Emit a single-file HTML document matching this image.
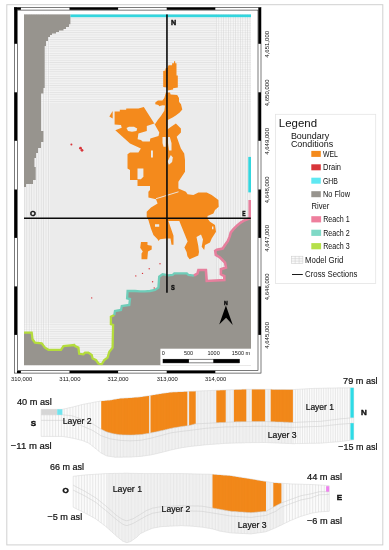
<!DOCTYPE html>
<html><head><meta charset="utf-8"><title>Model grid and boundary conditions</title>
<style>
html,body{margin:0;padding:0;background:#fff;}
body{width:389px;height:550px;overflow:hidden;}
svg{display:block;}
text{font-family:"Liberation Sans",sans-serif;fill:#111;}
.b{font-weight:bold;}
.s{stroke:#111;stroke-width:0.22px;}
.b.s{stroke-width:0.45px;}
</style></head><body>
<svg width="389" height="550" viewBox="0 0 389 550">
<defs>
<pattern id="hl" width="10" height="2.3" patternUnits="userSpaceOnUse"><rect width="10" height="2.3" fill="#f3f3f3"/><rect width="10" height="0.9" y="0" fill="#e3e3e3"/></pattern>
<pattern id="vl" width="2.4" height="10" patternUnits="userSpaceOnUse"><rect x="0.8" width="1.6" height="10" fill="#fff" fill-opacity="0.3"/><rect width="0.8" height="10" fill="#d8d8d8" fill-opacity="0.6"/></pattern>
<clipPath id="mapclip"><rect x="24" y="14.3" width="227" height="351"/></clipPath>
</defs>
<rect width="389" height="550" fill="#fff"/>
<rect x="6.8" y="4.7" width="376" height="540.2" fill="none" stroke="#d0d0d0" stroke-width="1"/>

<rect x="14.3" y="7.5" width="246.7" height="365.6" fill="#fff" stroke="#222" stroke-width="0.6"/>
<rect x="17.3" y="10.1" width="240.7" height="360.4" fill="#fff" stroke="#222" stroke-width="0.6"/>
<rect x="14.3" y="7.5" width="6.6" height="2.3" fill="#000"/>
<rect x="17.0" y="370.8" width="3.9" height="2.3" fill="#000"/>
<rect x="69.5" y="7.5" width="48.6" height="2.3" fill="#000"/>
<rect x="69.5" y="370.8" width="48.6" height="2.3" fill="#000"/>
<rect x="166.7" y="7.5" width="48.6" height="2.3" fill="#000"/>
<rect x="166.7" y="370.8" width="48.6" height="2.3" fill="#000"/>
<rect x="14.3" y="7.5" width="2.7" height="36.3" fill="#000"/>
<rect x="258.3" y="7.5" width="2.7" height="36.3" fill="#000"/>
<rect x="14.3" y="92.3" width="2.7" height="48.5" fill="#000"/>
<rect x="258.3" y="92.3" width="2.7" height="48.5" fill="#000"/>
<rect x="14.3" y="189.5" width="2.7" height="48.4" fill="#000"/>
<rect x="258.3" y="189.5" width="2.7" height="48.4" fill="#000"/>
<rect x="14.3" y="286.4" width="2.7" height="48.5" fill="#000"/>
<rect x="258.3" y="286.4" width="2.7" height="48.5" fill="#000"/>
<g clip-path="url(#mapclip)">
<rect x="24" y="14.3" width="227" height="351" fill="#ebebeb"/>
<rect x="24" y="14.3" width="227" height="88.7" fill="url(#hl)"/>
<rect x="24" y="322.6" width="227" height="43" fill="url(#hl)"/>
<rect x="24" y="14.3" width="26" height="351" fill="url(#vl)"/>
<rect x="216" y="14.3" width="35" height="351" fill="url(#vl)"/>
<polygon points="24.0,14.3 70.4,14.3 70.4,24.3 69.0,24.3 69.0,27.0 66.0,27.0 66.0,29.0 63.5,29.0 63.5,30.5 59.0,30.5 59.0,32.0 56.0,32.0 56.0,33.5 52.0,33.5 52.0,35.0 50.0,35.0 50.0,37.0 48.0,37.0 48.0,41.0 46.0,41.0 46.0,46.0 44.7,46.0 44.7,88.0 43.4,88.0 43.4,93.6 41.0,93.6 41.0,131.0 43.4,131.0 43.4,142.0 41.0,142.0 41.0,148.0 38.0,148.0 38.0,153.0 36.0,153.0 36.0,158.0 34.4,158.0 34.4,167.0 35.7,167.0 35.7,180.0 33.0,180.0 33.0,184.0 26.0,184.0 26.0,187.0 24.0,187.0" fill="#97948e"/>
<polygon points="24.0,332.6 31.7,332.6 32.5,339.3 35.0,342.6 41.7,343.4 45.0,347.6 48.4,349.8 61.0,349.8 63.5,346.0 74.3,345.0 75.0,346.0 78.4,347.6 79.2,353.8 83.4,354.3 85.0,352.6 88.4,352.6 91.7,355.0 92.6,358.5 95.9,360.0 98.4,363.5 101.7,364.3 104.3,360.0 107.6,357.6 109.3,351.8 112.6,347.6 113.1,325.0 110.9,324.2 110.9,316.7 114.3,315.0 115.0,311.0 121.0,310.0 121.8,306.0 129.3,305.0 130.0,299.0 127.1,298.4 127.6,290.9 135.0,291.0 140.0,291.4 145.0,291.4 150.0,291.0 155.0,290.0 158.4,287.6 159.2,276.7 162.6,274.2 168.4,275.4 172.6,275.0 174.3,273.4 186.8,273.4 188.5,275.0 194.0,275.7 197.5,273.4 198.4,270.0 205.9,270.0 206.7,281.0 224.3,280.1 224.3,276.0 220.9,274.3 220.9,269.2 226.0,267.6 225.0,262.6 220.0,257.5 215.8,254.9 215.2,250.9 216.9,249.7 222.7,248.5 225.0,245.1 227.9,241.0 229.7,236.4 230.8,232.4 233.7,228.9 237.2,225.4 240.7,222.5 244.7,220.2 249.7,218.3 251.0,218.2 251.0,366.0 24.0,366.0" fill="#97948e"/>
<polyline points="24.0,332.6 31.7,332.6 32.5,339.3 35.0,342.6 41.7,343.4 45.0,347.6 48.4,349.8 61.0,349.8 63.5,346.0 74.3,345.0 75.0,346.0 78.4,347.6 79.2,353.8 83.4,354.3 85.0,352.6 88.4,352.6 91.7,355.0 92.6,358.5 95.9,360.0 98.4,363.5 101.7,364.3 104.3,360.0 107.6,357.6 109.3,351.8 112.6,347.6 113.1,325.0 110.9,324.2 110.9,316.7 114.3,315.0" fill="none" stroke="#b4dc3c" stroke-width="2.3" stroke-linejoin="miter"/>
<polyline points="114.3,315.0 115.0,311.0 121.0,310.0 121.8,306.0 129.3,305.0 130.0,299.0 127.1,298.4 127.6,290.9 135.0,291.0 140.0,291.4 145.0,291.4 150.0,291.0 155.0,290.0 158.4,287.6 159.2,276.7 162.6,274.2 168.4,275.4 172.6,275.0 174.3,273.4 186.8,273.4 188.5,275.0 194.0,275.7" fill="none" stroke="#6fcdb9" stroke-width="2.3" stroke-linejoin="miter"/>
<polyline points="194.0,275.7 197.5,273.4 198.4,270.0 205.9,270.0 206.7,281.0 224.3,280.1 224.3,276.0 220.9,274.3 220.9,269.2 226.0,267.6 225.0,262.6 220.0,257.5 215.8,254.9 215.2,250.9 216.9,249.7 222.7,248.5 225.0,245.1 227.9,241.0 229.7,236.4 230.8,232.4 233.7,228.9 237.2,225.4 240.7,222.5 244.7,220.2 249.7,218.3 249.7,200.0" fill="none" stroke="#e67f9d" stroke-width="2.6" stroke-linejoin="miter"/>
<rect x="70.4" y="14.3" width="181" height="2.9" fill="#33d6de"/>
<rect x="248.3" y="156.9" width="2.7" height="35.5" fill="#33d6de"/>
<polygon points="174.0,61.2 175.2,61.2 175.2,63.2 176.5,63.2 176.5,75.6 177.8,75.6 177.8,87.6 173.1,88.2 173.1,89.6 167.5,90.5 167.3,87.4 163.2,86.9 163.2,70.9 165.4,70.4 165.4,68.4 167.5,67.9 168.5,65.3 172.1,65.3 172.1,63.2 174.0,63.2" fill="#f48a1c"/>
<polygon points="165.9,92.5 170.0,92.5 170.6,94.6 177.2,95.1 179.0,97.9 179.0,101.7 181.0,104.3 182.3,109.4 179.7,112.6 175.8,115.5 172.6,117.4 167.6,119.9 167.5,137.0 159.1,137.0 154.6,124.8 157.9,119.7 161.1,115.8 164.3,110.7 165.0,105.6 162.4,105.3 159.1,106.2 158.5,104.9 155.3,104.3 155.3,102.4 157.9,100.4 162.4,100.4 164.3,97.9 165.6,93.4" fill="#f48a1c"/>
<polygon points="109.3,116.6 112.7,110.9 112.7,118.6" fill="#f48a1c"/>
<polygon points="114.6,111.6 119.8,111.6 119.8,109.7 126.2,109.7 126.2,108.4 138.4,108.4 143.8,106.9 154.3,123.4 157.0,127.0 160.0,134.0 166.7,130.0 170.0,127.5 175.9,123.4 180.9,128.4 180.9,132.6 176.7,136.8 180.9,148.5 184.2,153.5 185.0,160.0 185.0,171.7 181.7,176.7 178.4,181.7 178.4,188.4 185.9,191.8 187.6,194.3 193.4,195.0 198.4,192.6 206.7,192.5 211.7,195.0 218.4,200.0 218.7,206.7 215.0,210.0 213.4,213.4 207.5,216.0 207.5,218.4 210.0,221.8 215.0,225.0 216.0,231.8 211.7,238.5 210.0,242.6 205.0,245.0 204.2,250.0 201.7,246.8 203.0,239.6 201.0,234.4 196.5,237.0 198.3,246.0 199.0,252.0 198.3,255.6 189.6,259.2 187.4,256.3 186.6,251.9 184.4,247.6 187.6,241.5 179.3,221.0 168.4,221.0 173.5,235.7 173.5,244.7 171.5,244.7 170.5,238.4 165.9,238.4 160.0,239.3 158.4,241.0 157.6,239.3 153.4,235.0 150.9,228.4 148.4,220.0 146.7,216.7 146.7,211.7 151.0,207.6 157.6,203.5 156.0,199.3 148.4,197.6 148.4,191.8 150.0,190.0 150.0,186.0 137.5,186.0 137.5,180.0 130.0,180.0 130.0,170.0 127.5,168.4 127.5,154.2 130.0,152.6 138.4,152.6 140.9,148.5 130.0,143.5 115.3,130.2 121.7,127.8 121.0,125.1 114.6,124.4" fill="#f48a1c"/>
<polygon points="141.0,241.9 147.5,241.9 147.5,245.0 151.7,245.8 151.7,249.6 148.0,251.5 147.3,259.2 141.5,259.2 141.5,253.5 142.8,251.5 140.2,247.7" fill="#f48a1c"/>
<polygon points="154.3,123.4 146.8,125.9 146.8,130.9 138.4,133.4 137.6,139.3 140.9,140.1 142.6,141.6 149.8,141.4 150.3,138.6 158.5,135.9 159.3,132.6 156.0,126.7" fill="#ebebeb"/>
<polygon points="126.5,128.0 129.0,126.8 134.0,126.8 137.2,128.5 136.5,131.0 132.0,131.8 128.0,131.0" fill="#ebebeb"/>
<polygon points="137.5,168.4 143.4,168.4 143.4,176.7 140.9,179.2 137.5,179.2" fill="#ebebeb"/>
<polygon points="168.0,137.0 169.8,137.0 171.5,143.0 171.5,150.5 169.0,150.5 168.0,143.0" fill="#ebebeb"/>
<polygon points="170.8,155.0 172.8,157.6 172.1,162.1 168.9,164.7 167.6,161.5" fill="#ebebeb"/>
<polygon points="162.5,137.0 165.7,137.0 165.7,146.7 163.5,146.7 162.5,143.0" fill="#ebebeb"/>
<polygon points="151.0,150.6 152.9,150.6 152.9,157.6 151.0,157.6" fill="#ebebeb"/>
<polygon points="212.0,226.5 213.4,226.5 213.4,229.3 212.0,229.3" fill="#ebebeb"/>
<polygon points="155.0,224.2 159.2,224.2 159.2,226.7 155.0,226.7" fill="#ebebeb"/>
<line x1="156" y1="198.7" x2="178.5" y2="191.8" stroke="#ebebeb" stroke-width="0.9"/>
<circle cx="71.4" cy="144.4" r="1.0" fill="#d8353a"/>
<circle cx="80.5" cy="148.2" r="1.4" fill="#d8353a"/>
<circle cx="82" cy="150.3" r="1.4" fill="#d8353a"/>
<circle cx="160" cy="263.7" r="0.7" fill="#d8353a"/>
<circle cx="149.2" cy="268.7" r="0.7" fill="#d8353a"/>
<circle cx="142.5" cy="273.4" r="0.7" fill="#d8353a"/>
<circle cx="135.8" cy="275.9" r="0.7" fill="#d8353a"/>
<circle cx="152.6" cy="281.7" r="0.7" fill="#d8353a"/>
<circle cx="154.2" cy="288" r="0.7" fill="#d8353a"/>
<circle cx="91.7" cy="297.9" r="0.7" fill="#d8353a"/>
<line x1="166.95" y1="14.3" x2="166.95" y2="292.8" stroke="#0a0a0a" stroke-width="1.6"/>
<line x1="24" y1="218.25" x2="250.8" y2="218.25" stroke="#0a0a0a" stroke-width="1.6"/>
<rect x="160.4" y="348.7" width="92" height="18" fill="#fff"/>
<rect x="163" y="359.2" width="76.5" height="3.7" fill="#fff" stroke="#000" stroke-width="0.5"/>
<rect x="163" y="359.2" width="25.9" height="3.7" fill="#000"/>
<rect x="213.3" y="359.2" width="26.2" height="3.7" fill="#000"/>
</g>
<text x="170.9" y="24.5" font-size="7.2" class="b s">N</text>
<text x="30.1" y="215.9" font-size="7.5" class="b s">O</text>
<text x="242.3" y="215.6" font-size="7.2" class="b s" textLength="3.3" lengthAdjust="spacingAndGlyphs">E</text>
<text x="170.9" y="289.8" font-size="7.3" class="b s" textLength="3.8" lengthAdjust="spacingAndGlyphs">S</text>
<text x="223.9" y="304.6" font-size="5.2" class="b s">N</text>
<polygon points="225.9,305.4 219.2,324.6 226.1,317.8 232.8,325" fill="#000"/>
<text x="163.3" y="354.9" font-size="5.5" text-anchor="middle">0</text>
<text x="188.6" y="354.9" font-size="5.5" text-anchor="middle">500</text>
<text x="213.6" y="354.9" font-size="5.5" text-anchor="middle">1000</text>
<text x="241" y="354.9" font-size="5.5" text-anchor="middle">1500 m</text>
<text x="11.05" y="380.6" font-size="6.2" textLength="21.1" lengthAdjust="spacingAndGlyphs">310,000</text>
<text x="59.35000000000001" y="380.6" font-size="6.2" textLength="21.1" lengthAdjust="spacingAndGlyphs">311,000</text>
<text x="107.45" y="380.6" font-size="6.2" textLength="21.1" lengthAdjust="spacingAndGlyphs">312,000</text>
<text x="156.64999999999998" y="380.6" font-size="6.2" textLength="21.1" lengthAdjust="spacingAndGlyphs">313,000</text>
<text x="205.04999999999998" y="380.6" font-size="6.2" textLength="21.1" lengthAdjust="spacingAndGlyphs">314,000</text>
<text transform="translate(268.6,57.7) rotate(-90)" font-size="6.2" textLength="26.8" lengthAdjust="spacingAndGlyphs">4,651,000</text>
<text transform="translate(268.6,106.3) rotate(-90)" font-size="6.2" textLength="26.8" lengthAdjust="spacingAndGlyphs">4,650,000</text>
<text transform="translate(268.6,154.8) rotate(-90)" font-size="6.2" textLength="26.8" lengthAdjust="spacingAndGlyphs">4,649,000</text>
<text transform="translate(268.6,203.3) rotate(-90)" font-size="6.2" textLength="26.8" lengthAdjust="spacingAndGlyphs">4,648,000</text>
<text transform="translate(268.6,251.8) rotate(-90)" font-size="6.2" textLength="26.8" lengthAdjust="spacingAndGlyphs">4,647,000</text>
<text transform="translate(268.6,300.3) rotate(-90)" font-size="6.2" textLength="26.8" lengthAdjust="spacingAndGlyphs">4,646,000</text>
<text transform="translate(268.6,348.8) rotate(-90)" font-size="6.2" textLength="26.8" lengthAdjust="spacingAndGlyphs">4,645,000</text>
<rect x="275.5" y="114.3" width="100.2" height="169.2" fill="#fff" stroke="#e4e4e4" stroke-width="0.8"/>
<text x="278.8" y="126.6" font-size="11.5" textLength="38.2" lengthAdjust="spacingAndGlyphs">Legend</text>
<text x="290.9" y="139.2" font-size="9" textLength="38.3" lengthAdjust="spacingAndGlyphs">Boundary</text>
<text x="290.9" y="147.1" font-size="9" textLength="42.3" lengthAdjust="spacingAndGlyphs">Conditions</text>
<rect x="311.3" y="150.9" width="9.5" height="6" fill="#f48a1c"/>
<text x="323" y="156.9" font-size="8.2" textLength="14.9" lengthAdjust="spacingAndGlyphs">WEL</text>
<rect x="311.3" y="164.3" width="9.5" height="6" fill="#d8353a"/>
<text x="323" y="170.3" font-size="8.2" textLength="18" lengthAdjust="spacingAndGlyphs">Drain</text>
<rect x="311.3" y="177.7" width="9.5" height="6" fill="#5fe8f2"/>
<text x="323" y="183.7" font-size="8.2" textLength="14.9" lengthAdjust="spacingAndGlyphs">GHB</text>
<rect x="311.3" y="191.2" width="9.5" height="6" fill="#97948e"/>
<text x="323" y="197.2" font-size="8.2" textLength="27" lengthAdjust="spacingAndGlyphs">No Flow</text>
<text x="311.6" y="208.8" font-size="8.6" textLength="17.8" lengthAdjust="spacingAndGlyphs">River</text>
<rect x="311.3" y="216.2" width="9.8" height="6.2" fill="#ee7f9d"/>
<text x="323.2" y="222.4" font-size="8.2" textLength="26.6" lengthAdjust="spacingAndGlyphs">Reach 1</text>
<rect x="311.3" y="229.7" width="9.8" height="6.2" fill="#7fd9c6"/>
<text x="323.2" y="235.9" font-size="8.2" textLength="26.6" lengthAdjust="spacingAndGlyphs">Reach 2</text>
<rect x="311.3" y="243.1" width="9.8" height="6.2" fill="#b5e04a"/>
<text x="323.2" y="249.3" font-size="8.2" textLength="26.6" lengthAdjust="spacingAndGlyphs">Reach 3</text>
<g stroke="#c8c8c8" stroke-width="0.5" fill="#fafafa"><rect x="291.3" y="256.2" width="11.6" height="7.4"/><line x1="295.2" y1="256.2" x2="295.2" y2="263.6"/><line x1="299.1" y1="256.2" x2="299.1" y2="263.6"/><line x1="291.3" y1="258.7" x2="302.9" y2="258.7"/><line x1="291.3" y1="261.1" x2="302.9" y2="261.1"/></g>
<text x="305.1" y="262.9" font-size="8.8" textLength="38.2" lengthAdjust="spacingAndGlyphs">Model Grid</text>
<line x1="292" y1="274.5" x2="302.8" y2="274.5" stroke="#000" stroke-width="0.9"/>
<text x="305.1" y="276.8" font-size="8.8" textLength="52.3" lengthAdjust="spacingAndGlyphs">Cross Sections</text>
<polygon points="41.2,409.3 42.2,409.3 43.2,409.3 44.2,409.3 45.2,409.3 46.2,409.3 47.2,409.3 48.2,409.3 49.2,409.3 50.2,409.3 51.2,409.3 52.2,409.3 53.2,409.3 54.2,409.3 55.2,409.3 56.2,409.3 57.2,409.3 58.2,409.3 59.2,409.3 60.2,409.3 61.2,409.3 62.2,409.3 63.2,409.1 64.2,408.9 65.2,408.7 66.2,408.5 67.2,408.2 68.2,408.0 69.2,407.8 70.2,407.6 71.2,407.4 72.2,407.1 73.3,406.9 74.3,406.6 75.3,406.3 76.3,406.1 77.3,405.8 78.3,405.6 79.3,405.3 80.3,405.0 81.3,404.8 82.3,404.5 83.3,404.3 84.3,404.1 85.3,403.9 86.3,403.7 87.3,403.5 88.3,403.3 89.3,403.1 90.3,403.0 91.3,402.8 92.3,402.6 93.3,402.4 94.3,402.2 95.3,402.0 96.3,401.8 97.3,401.6 98.3,401.5 99.3,401.3 100.3,401.1 101.3,401.0 102.3,400.9 103.3,400.8 104.3,400.7 105.3,400.6 106.3,400.5 107.3,400.4 108.3,400.3 109.3,400.3 110.3,400.1 111.3,400.0 112.3,399.8 113.3,399.6 114.3,399.4 115.3,399.3 116.3,399.1 117.3,398.9 118.3,398.7 119.3,398.6 120.3,398.4 121.3,398.3 122.3,398.3 123.3,398.2 124.3,398.2 125.3,398.1 126.3,398.0 127.3,398.0 128.3,397.9 129.3,397.9 130.3,397.8 131.3,397.7 132.3,397.6 133.3,397.6 134.3,397.5 135.4,397.4 136.4,397.3 137.4,397.2 138.4,397.1 139.4,397.0 140.4,396.9 141.4,396.8 142.4,396.7 143.4,396.5 144.4,396.4 145.4,396.2 146.4,396.1 147.4,395.9 148.4,395.8 149.4,395.6 150.4,395.5 151.4,395.3 152.4,395.1 153.4,395.0 154.4,394.8 155.4,394.6 156.4,394.4 157.4,394.3 158.4,394.1 159.4,393.9 160.4,393.8 161.4,393.6 162.4,393.5 163.4,393.3 164.4,393.2 165.4,393.1 166.4,392.9 167.4,392.8 168.4,392.6 169.4,392.5 170.4,392.4 171.4,392.2 172.4,392.2 173.4,392.1 174.4,392.1 175.4,392.0 176.4,392.0 177.4,391.9 178.4,391.9 179.4,391.9 180.4,391.8 181.4,391.8 182.4,391.7 183.4,391.7 184.4,391.6 185.4,391.6 186.4,391.5 187.4,391.5 188.4,391.4 189.4,391.4 190.4,391.4 191.4,391.3 192.4,391.3 193.4,391.2 194.4,391.2 195.4,391.1 196.4,391.1 197.4,391.1 198.5,391.0 199.5,391.0 200.5,390.9 201.5,390.9 202.5,390.8 203.5,390.8 204.5,390.7 205.5,390.7 206.5,390.7 207.5,390.6 208.5,390.6 209.5,390.5 210.5,390.5 211.5,390.5 212.5,390.4 213.5,390.4 214.5,390.4 215.5,390.3 216.5,390.3 217.5,390.2 218.5,390.2 219.5,390.2 220.5,390.1 221.5,390.1 222.5,390.0 223.5,390.0 224.5,390.0 225.5,389.9 226.5,389.9 227.5,389.9 228.5,389.8 229.5,389.8 230.5,389.8 231.5,389.7 232.5,389.7 233.5,389.7 234.5,389.7 235.5,389.6 236.5,389.6 237.5,389.6 238.5,389.5 239.5,389.5 240.5,389.5 241.5,389.5 242.5,389.4 243.5,389.4 244.5,389.4 245.5,389.3 246.5,389.3 247.5,389.3 248.5,389.3 249.5,389.3 250.5,389.3 251.5,389.3 252.5,389.3 253.5,389.3 254.5,389.3 255.5,389.3 256.5,389.4 257.5,389.4 258.5,389.4 259.5,389.4 260.6,389.4 261.6,389.4 262.6,389.4 263.6,389.4 264.6,389.4 265.6,389.4 266.6,389.4 267.6,389.4 268.6,389.4 269.6,389.4 270.6,389.4 271.6,389.4 272.6,389.5 273.6,389.5 274.6,389.5 275.6,389.5 276.6,389.5 277.6,389.5 278.6,389.5 279.6,389.5 280.6,389.5 281.6,389.5 282.6,389.5 283.6,389.5 284.6,389.5 285.6,389.5 286.6,389.6 287.6,389.6 288.6,389.6 289.6,389.6 290.6,389.6 291.6,389.6 292.6,389.6 293.6,389.6 294.6,389.5 295.6,389.4 296.6,389.4 297.6,389.3 298.6,389.3 299.6,389.2 300.6,389.1 301.6,389.1 302.6,389.0 303.6,389.0 304.6,388.9 305.6,388.8 306.6,388.8 307.6,388.7 308.6,388.7 309.6,388.6 310.6,388.5 311.6,388.5 312.6,388.5 313.6,388.4 314.6,388.4 315.6,388.4 316.6,388.4 317.6,388.4 318.6,388.3 319.6,388.3 320.6,388.3 321.6,388.3 322.7,388.2 323.7,388.2 324.7,388.2 325.7,388.2 326.7,388.2 327.7,388.1 328.7,388.1 329.7,388.1 330.7,388.1 331.7,388.1 332.7,388.0 333.7,388.0 334.7,388.0 335.7,388.0 336.7,388.0 337.7,387.9 338.7,387.9 339.7,387.9 340.7,387.9 341.7,387.9 342.7,387.9 343.7,387.9 344.7,387.9 345.7,387.9 346.7,387.9 347.7,387.8 348.7,387.8 349.7,387.8 350.7,387.8 351.7,387.8 352.7,387.8 353.7,387.8 353.7,439.8 352.7,439.9 351.7,440.1 350.7,440.2 349.7,440.3 348.7,440.5 347.7,440.6 346.7,440.7 345.7,440.9 344.7,441.0 343.7,441.1 342.7,441.2 341.7,441.4 340.7,441.5 339.7,441.6 338.7,441.7 337.7,441.8 336.7,441.9 335.7,441.9 334.7,442.0 333.7,442.1 332.7,442.2 331.7,442.3 330.7,442.3 329.7,442.4 328.7,442.5 327.7,442.6 326.7,442.7 325.7,442.7 324.7,442.8 323.7,442.9 322.7,443.0 321.6,443.1 320.6,443.1 319.6,443.2 318.6,443.2 317.6,443.2 316.6,443.2 315.6,443.3 314.6,443.3 313.6,443.3 312.6,443.3 311.6,443.3 310.6,443.3 309.6,443.3 308.6,443.4 307.6,443.4 306.6,443.4 305.6,443.4 304.6,443.4 303.6,443.5 302.6,443.5 301.6,443.5 300.6,443.5 299.6,443.6 298.6,443.6 297.6,443.6 296.6,443.6 295.6,443.6 294.6,443.7 293.6,443.7 292.6,443.7 291.6,443.6 290.6,443.6 289.6,443.6 288.6,443.5 287.6,443.5 286.6,443.4 285.6,443.4 284.6,443.3 283.6,443.3 282.6,443.3 281.6,443.2 280.6,443.2 279.6,443.1 278.6,443.1 277.6,443.0 276.6,443.0 275.6,443.0 274.6,442.9 273.6,442.9 272.6,442.8 271.6,442.8 270.6,442.7 269.6,442.7 268.6,442.7 267.6,442.6 266.6,442.6 265.6,442.5 264.6,442.5 263.6,442.5 262.6,442.5 261.6,442.5 260.6,442.5 259.5,442.6 258.5,442.6 257.5,442.6 256.5,442.6 255.5,442.6 254.5,442.6 253.5,442.6 252.5,442.6 251.5,442.6 250.5,442.7 249.5,442.7 248.5,442.7 247.5,442.7 246.5,442.7 245.5,442.7 244.5,442.8 243.5,442.8 242.5,442.8 241.5,442.9 240.5,442.9 239.5,442.9 238.5,442.9 237.5,443.0 236.5,443.0 235.5,443.0 234.5,443.1 233.5,443.1 232.5,443.1 231.5,443.1 230.5,443.2 229.5,443.2 228.5,443.2 227.5,443.3 226.5,443.3 225.5,443.3 224.5,443.4 223.5,443.5 222.5,443.6 221.5,443.6 220.5,443.7 219.5,443.8 218.5,443.9 217.5,443.9 216.5,444.0 215.5,444.1 214.5,444.2 213.5,444.2 212.5,444.3 211.5,444.4 210.5,444.4 209.5,444.5 208.5,444.6 207.5,444.7 206.5,444.7 205.5,444.8 204.5,444.9 203.5,445.0 202.5,445.1 201.5,445.3 200.5,445.4 199.5,445.5 198.5,445.6 197.4,445.7 196.4,445.8 195.4,445.9 194.4,446.0 193.4,446.1 192.4,446.2 191.4,446.3 190.4,446.5 189.4,446.6 188.4,446.7 187.4,446.9 186.4,447.0 185.4,447.2 184.4,447.3 183.4,447.5 182.4,447.6 181.4,447.8 180.4,448.0 179.4,448.2 178.4,448.4 177.4,448.6 176.4,448.8 175.4,449.0 174.4,449.2 173.4,449.5 172.4,449.7 171.4,449.9 170.4,450.1 169.4,450.4 168.4,450.7 167.4,450.9 166.4,451.2 165.4,451.5 164.4,451.7 163.4,452.0 162.4,452.2 161.4,452.5 160.4,452.7 159.4,453.0 158.4,453.2 157.4,453.4 156.4,453.7 155.4,453.9 154.4,454.1 153.4,454.4 152.4,454.6 151.4,454.8 150.4,455.0 149.4,455.2 148.4,455.3 147.4,455.4 146.4,455.6 145.4,455.7 144.4,455.9 143.4,456.0 142.4,456.2 141.4,456.3 140.4,456.4 139.4,456.5 138.4,456.5 137.4,456.6 136.4,456.7 135.4,456.7 134.3,456.8 133.3,456.8 132.3,456.9 131.3,457.0 130.3,457.0 129.3,457.0 128.3,457.0 127.3,457.1 126.3,457.1 125.3,457.1 124.3,457.1 123.3,457.1 122.3,457.2 121.3,457.2 120.3,457.2 119.3,457.2 118.3,457.2 117.3,457.2 116.3,457.2 115.3,457.2 114.3,457.1 113.3,456.9 112.3,456.8 111.3,456.6 110.3,456.5 109.3,456.3 108.3,456.2 107.3,456.0 106.3,455.7 105.3,455.2 104.3,454.7 103.3,454.1 102.3,453.6 101.3,453.1 100.3,452.5 99.3,451.6 98.3,450.8 97.3,450.0 96.3,449.1 95.3,448.3 94.3,447.5 93.3,446.7 92.3,445.9 91.3,445.1 90.3,444.4 89.3,443.6 88.3,442.9 87.3,442.5 86.3,442.1 85.3,441.7 84.3,441.3 83.3,440.9 82.3,440.5 81.3,440.2 80.3,440.0 79.3,439.8 78.3,439.5 77.3,439.3 76.3,439.0 75.3,438.8 74.3,438.5 73.3,438.3 72.2,438.1 71.2,437.9 70.2,437.7 69.2,437.5 68.2,437.4 67.2,437.2 66.2,437.0 65.2,436.9 64.2,436.7 63.2,436.5 62.2,436.4 61.2,436.4 60.2,436.4 59.2,436.4 58.2,436.4 57.2,436.4 56.2,436.4 55.2,436.4 54.2,436.4 53.2,436.4 52.2,436.4 51.2,436.4 50.2,436.4 49.2,436.4 48.2,436.4 47.2,436.4 46.2,436.4 45.2,436.4 44.2,436.4 43.2,436.4 42.2,436.4 41.2,436.4" fill="#fbfbfb" stroke="#d9d9d9" stroke-width="0.6"/>
<path d="M44.1,409.3V436.4M47.0,409.3V436.4M49.8,409.3V436.4M52.7,409.3V436.4M55.6,409.3V436.4M58.5,409.3V436.4M61.4,409.3V436.4M64.2,408.9V436.7M67.1,408.3V437.2M70.0,407.6V437.7M72.9,407.0V438.2M75.8,406.2V438.9M78.6,405.5V439.6M81.5,404.7V440.3M84.4,404.1V441.3M87.3,403.5V442.5M90.2,403.0V444.3M93.0,402.4V446.5M95.9,401.9V448.8M98.8,401.4V451.2M101.7,400.9V453.3M103.1,400.8V454.1M104.6,400.7V454.8M106.0,400.5V455.5M107.5,400.4V456.1M108.9,400.3V456.3M110.4,400.1V456.5M111.8,399.9V456.7M113.3,399.6V456.9M114.7,399.4V457.2M116.2,399.1V457.2M117.6,398.9V457.2M119.1,398.6V457.2M120.5,398.4V457.2M122.0,398.3V457.2M123.4,398.2V457.1M124.9,398.1V457.1M126.3,398.0V457.1M127.8,398.0V457.1M129.2,397.9V457.0M130.7,397.8V457.0M132.1,397.7V456.9M133.6,397.5V456.8M135.0,397.4V456.7M136.5,397.3V456.7M137.9,397.2V456.6M139.4,397.0V456.5M140.8,396.9V456.4M142.3,396.7V456.2M143.7,396.5V456.0M145.2,396.3V455.8M146.6,396.0V455.6M148.1,395.8V455.3M149.5,395.6V455.1M151.0,395.4V454.9M152.4,395.1V454.6M153.9,394.9V454.3M155.3,394.6V453.9M156.8,394.4V453.6M158.2,394.1V453.2M159.7,393.9V452.9M161.1,393.6V452.6M162.6,393.4V452.2M164.0,393.2V451.8M165.5,393.0V451.4M166.9,392.8V451.1M168.4,392.7V450.7M169.8,392.5V450.3M171.3,392.3V449.9M172.7,392.2V449.6M174.2,392.1V449.3M175.6,392.0V449.0M177.1,392.0V448.7M178.5,391.9V448.4M180.0,391.8V448.1M181.4,391.8V447.8M182.9,391.7V447.6M184.3,391.6V447.4M185.8,391.6V447.1M187.2,391.5V446.9M188.7,391.4V446.7M190.1,391.4V446.5M191.6,391.3V446.3M193.0,391.2V446.2M194.5,391.2V446.0M195.9,391.1V445.9M197.4,391.1V445.7M198.8,391.0V445.5M200.3,390.9V445.4M201.7,390.9V445.2M203.2,390.8V445.1M204.6,390.7V444.9M206.1,390.7V444.8M207.5,390.6V444.7M209.0,390.6V444.6M210.4,390.5V444.4M211.9,390.5V444.3M213.3,390.4V444.2M214.8,390.3V444.1M216.2,390.3V444.0M217.7,390.2V443.9M219.1,390.2V443.8M220.6,390.1V443.7M222.0,390.1V443.6M223.5,390.0V443.5M224.9,389.9V443.4M226.4,389.9V443.3M227.8,389.8V443.2M229.3,389.8V443.2M230.7,389.8V443.2M232.2,389.7V443.1M233.6,389.7V443.1M235.1,389.6V443.0M236.5,389.6V443.0M238.0,389.6V443.0M239.4,389.5V442.9M240.9,389.5V442.9M242.3,389.4V442.8M243.8,389.4V442.8M245.2,389.3V442.7M246.7,389.3V442.7M248.1,389.3V442.7M249.6,389.3V442.7M251.0,389.3V442.7M252.5,389.3V442.6M253.9,389.3V442.6M255.4,389.3V442.6M256.8,389.4V442.6M258.3,389.4V442.6M259.7,389.4V442.6M261.2,389.4V442.5M262.6,389.4V442.5M264.1,389.4V442.5M265.5,389.4V442.5M267.0,389.4V442.6M268.4,389.4V442.6M269.9,389.4V442.7M271.3,389.4V442.8M272.8,389.5V442.8M274.2,389.5V442.9M275.7,389.5V443.0M277.1,389.5V443.0M278.6,389.5V443.1M280.0,389.5V443.1M281.5,389.5V443.2M282.9,389.5V443.3M284.4,389.5V443.3M285.8,389.5V443.4M287.3,389.6V443.5M288.7,389.6V443.5M290.2,389.6V443.6M291.6,389.6V443.6M293.1,389.6V443.7M295.4,389.4V443.6M297.8,389.3V443.6M300.1,389.2V443.5M302.5,389.0V443.5M304.8,388.9V443.4M307.2,388.8V443.4M309.5,388.6V443.3M311.9,388.5V443.3M314.2,388.4V443.3M316.6,388.4V443.2M318.9,388.3V443.2M321.3,388.3V443.1M323.6,388.2V442.9M326.0,388.2V442.7M328.3,388.1V442.5M330.7,388.1V442.3M333.0,388.0V442.2M335.4,388.0V442.0M337.7,387.9V441.8M340.1,387.9V441.6M342.4,387.9V441.3M344.8,387.9V441.0M347.1,387.8V440.7M349.5,387.8V440.4M351.8,387.8V440.0" stroke="#d9d9d9" stroke-width="0.55" fill="none"/>
<polygon points="101.2,401.2 102.2,401.1 103.2,401.0 104.3,400.9 105.3,400.8 106.3,400.7 107.3,400.6 108.3,400.5 109.4,400.5 110.4,400.3 111.4,400.2 112.4,400.0 113.4,399.8 114.4,399.6 115.5,399.4 116.5,399.3 117.5,399.1 118.5,398.9 119.5,398.7 120.6,398.6 121.6,398.5 122.6,398.5 123.6,398.4 124.6,398.3 125.7,398.3 126.7,398.2 127.7,398.2 128.7,398.1 129.7,398.1 130.8,398.0 131.8,397.9 132.8,397.8 133.8,397.7 134.8,397.6 135.9,397.5 136.9,397.4 137.9,397.4 138.9,397.3 139.9,397.2 140.9,397.1 142.0,396.9 143.0,396.8 144.0,396.6 145.0,396.5 146.0,396.3 147.1,396.2 148.1,396.0 149.1,395.9 149.1,433.3 148.1,433.4 147.1,433.6 146.0,433.8 145.0,433.9 144.0,434.1 143.0,434.3 142.0,434.4 140.9,434.6 139.9,434.6 138.9,434.7 137.9,434.7 136.9,434.8 135.9,434.8 134.8,434.9 133.8,434.9 132.8,435.0 131.8,435.0 130.8,435.1 129.7,435.1 128.7,435.0 127.7,435.0 126.7,435.0 125.7,435.0 124.6,434.9 123.6,434.9 122.6,434.9 121.6,434.8 120.6,434.8 119.5,434.7 118.5,434.5 117.5,434.4 116.5,434.2 115.5,434.1 114.4,433.9 113.4,433.8 112.4,433.5 111.4,433.2 110.4,432.9 109.4,432.7 108.3,432.4 107.3,432.1 106.3,431.8 105.3,431.3 104.3,430.8 103.2,430.3 102.2,429.7 101.2,429.2" fill="#f48a1c"/>
<path d="M102.7,401.2V429.8M104.1,401.1V430.5M105.6,401.0V431.3M107.0,400.9V431.8M108.5,400.7V432.2M109.9,400.6V432.6M111.4,400.4V433.0M112.8,400.1V433.4M114.3,399.9V433.7M115.7,399.6V433.9M117.2,399.4V434.1M118.6,399.1V434.3M120.1,398.8V434.6M121.5,398.7V434.6M123.0,398.6V434.7M124.4,398.6V434.7M125.9,398.5V434.8M127.3,398.4V434.8M128.8,398.3V434.8M130.2,398.2V434.9M131.7,398.1V434.8M133.1,398.0V434.8M134.6,397.9V434.7M136.0,397.7V434.6M137.4,397.6V434.6M138.9,397.5V434.5M140.3,397.3V434.4M141.8,397.2V434.2M143.2,396.9V434.0M144.7,396.7V433.8M146.1,396.5V433.6M147.6,396.3V433.3" stroke="#d9730a" stroke-opacity="0.35" stroke-width="0.4" fill="none"/>
<polygon points="150.5,395.6 151.5,395.5 152.5,395.3 153.6,395.1 154.6,395.0 155.6,394.8 156.6,394.6 157.7,394.4 158.7,394.3 159.7,394.1 160.7,393.9 161.7,393.8 162.8,393.6 163.8,393.5 164.8,393.3 165.8,393.2 166.9,393.1 167.9,392.9 168.9,392.8 169.9,392.6 170.9,392.5 172.0,392.4 173.0,392.3 174.0,392.3 175.0,392.2 176.1,392.2 177.1,392.2 178.1,392.1 179.1,392.1 180.1,392.0 181.2,392.0 182.2,391.9 183.2,391.9 184.2,391.8 185.3,391.8 186.3,391.7 187.3,391.7 187.3,425.8 186.3,425.9 185.3,426.1 184.2,426.2 183.2,426.3 182.2,426.5 181.2,426.6 180.1,426.8 179.1,427.0 178.1,427.1 177.1,427.3 176.1,427.5 175.0,427.6 174.0,427.8 173.0,428.0 172.0,428.2 170.9,428.4 169.9,428.6 168.9,428.9 167.9,429.1 166.9,429.4 165.8,429.6 164.8,429.9 163.8,430.1 162.8,430.4 161.7,430.6 160.7,430.8 159.7,431.1 158.7,431.3 157.7,431.5 156.6,431.7 155.6,431.9 154.6,432.1 153.6,432.3 152.5,432.6 151.5,432.8 150.5,433.0" fill="#f48a1c"/>
<path d="M151.9,395.6V432.5M153.4,395.4V432.2M154.8,395.1V431.9M156.3,394.9V431.6M157.7,394.6V431.3M159.2,394.4V431.0M160.6,394.1V430.7M162.1,393.9V430.3M163.5,393.7V430.0M165.0,393.5V429.6M166.4,393.3V429.3M167.9,393.1V428.9M169.3,392.9V428.6M170.8,392.7V428.2M172.2,392.6V427.9M173.7,392.5V427.7M175.1,392.4V427.4M176.6,392.4V427.2M178.0,392.3V427.0M179.5,392.2V426.7M180.9,392.2V426.5M182.4,392.1V426.2M183.8,392.1V426.0M185.3,392.0V425.8M186.7,391.9V425.6" stroke="#d9730a" stroke-opacity="0.35" stroke-width="0.4" fill="none"/>
<polygon points="189.1,391.6 190.2,391.6 191.3,391.5 192.4,391.5 193.5,391.4 194.6,391.4 195.7,391.3 195.7,423.9 194.6,424.1 193.5,424.4 192.4,424.7 191.3,425.0 190.2,425.3 189.1,425.5" fill="#f48a1c"/>
<path d="M190.5,391.8V425.0M192.0,391.7V424.6M193.4,391.6V424.2M194.9,391.6V423.8" stroke="#d9730a" stroke-opacity="0.35" stroke-width="0.4" fill="none"/>
<polygon points="216.3,390.5 217.3,390.4 218.4,390.4 219.4,390.4 220.5,390.3 221.5,390.3 222.6,390.2 223.6,390.2 224.7,390.2 225.7,390.1 225.7,422.3 224.7,422.4 223.6,422.4 222.6,422.5 221.5,422.5 220.5,422.6 219.4,422.6 218.4,422.7 217.3,422.7 216.3,422.8" fill="#f48a1c"/>
<path d="M217.8,390.6V422.5M219.2,390.6V422.5M220.6,390.5V422.4M222.1,390.5V422.3M223.5,390.4V422.2M225.0,390.3V422.2" stroke="#d9730a" stroke-opacity="0.35" stroke-width="0.4" fill="none"/>
<polygon points="233.9,389.9 234.9,389.8 236.0,389.8 237.0,389.8 238.0,389.8 239.1,389.7 240.1,389.7 241.1,389.7 242.2,389.6 243.2,389.6 244.2,389.6 245.3,389.5 246.3,389.5 246.3,421.7 245.3,421.7 244.2,421.7 243.2,421.7 242.2,421.7 241.1,421.8 240.1,421.8 239.1,421.8 238.0,421.8 237.0,421.8 236.0,421.8 234.9,421.9 233.9,421.9" fill="#f48a1c"/>
<path d="M235.3,390.0V421.7M236.8,390.0V421.6M238.2,389.9V421.6M239.7,389.9V421.6M241.1,389.9V421.6M242.6,389.8V421.5M244.0,389.8V421.5M245.5,389.7V421.5" stroke="#d9730a" stroke-opacity="0.35" stroke-width="0.4" fill="none"/>
<polygon points="251.8,389.5 252.8,389.5 253.8,389.5 254.9,389.5 255.9,389.6 256.9,389.6 257.9,389.6 259.0,389.6 260.0,389.6 261.0,389.6 262.0,389.6 263.1,389.6 264.1,389.6 265.1,389.6 265.1,421.5 264.1,421.5 263.1,421.5 262.0,421.5 261.0,421.5 260.0,421.6 259.0,421.6 257.9,421.6 256.9,421.6 255.9,421.6 254.9,421.6 253.8,421.6 252.8,421.6 251.8,421.6" fill="#f48a1c"/>
<path d="M253.2,389.7V421.4M254.7,389.7V421.4M256.1,389.8V421.4M257.6,389.8V421.4M259.0,389.8V421.4M260.5,389.8V421.3M261.9,389.8V421.3M263.4,389.8V421.3" stroke="#d9730a" stroke-opacity="0.35" stroke-width="0.4" fill="none"/>
<polygon points="270.7,389.6 271.7,389.6 272.7,389.7 273.7,389.7 274.7,389.7 275.7,389.7 276.8,389.7 277.8,389.7 278.8,389.7 279.8,389.7 280.8,389.7 281.8,389.7 282.8,389.7 283.8,389.7 284.8,389.7 285.8,389.7 286.8,389.8 287.9,389.8 288.9,389.8 289.9,389.8 290.9,389.8 291.9,389.8 292.9,389.8 292.9,422.5 291.9,422.5 290.9,422.4 289.9,422.4 288.9,422.4 287.9,422.3 286.8,422.3 285.8,422.2 284.8,422.2 283.8,422.2 282.8,422.1 281.8,422.1 280.8,422.1 279.8,422.0 278.8,422.0 277.8,422.0 276.8,421.9 275.7,421.9 274.7,421.8 273.7,421.8 272.7,421.8 271.7,421.7 270.7,421.7" fill="#f48a1c"/>
<path d="M272.1,389.9V421.6M273.6,389.9V421.6M275.0,389.9V421.7M276.5,389.9V421.7M277.9,389.9V421.8M279.4,389.9V421.8M280.8,389.9V421.9M282.3,389.9V421.9M283.7,389.9V422.0M285.2,389.9V422.0M286.6,390.0V422.1M288.1,390.0V422.1M289.5,390.0V422.2M291.0,390.0V422.2" stroke="#d9730a" stroke-opacity="0.35" stroke-width="0.4" fill="none"/>
<polyline points="41.2,414.8 42.2,414.8 43.2,414.8 44.2,414.8 45.2,414.8 46.2,414.8 47.2,414.8 48.2,414.8 49.2,414.8 50.2,414.8 51.2,414.8 52.2,414.8 53.2,414.8 54.2,414.8 55.2,414.8 56.2,414.8 57.2,414.8 58.2,414.8 59.2,414.8 60.2,414.8 61.2,414.8 62.2,414.8 63.2,414.9 64.2,415.0 65.2,415.1 66.2,415.2 67.2,415.3 68.2,415.4 69.2,415.5 70.2,415.6 71.2,415.7 72.2,415.9 73.3,416.2 74.3,416.6 75.3,416.9 76.3,417.3 77.3,417.6 78.3,418.0 79.3,418.3 80.3,418.7 81.3,419.0 82.3,419.4 83.3,419.8 84.3,420.2 85.3,420.7 86.3,421.1 87.3,421.5 88.3,422.0 89.3,422.4 90.3,422.8 91.3,423.2 92.3,423.7 93.3,424.2 94.3,424.9 95.3,425.5 96.3,426.1 97.3,426.8 98.3,427.4 99.3,428.0 100.3,428.7 101.3,429.3 102.3,429.8 103.3,430.3 104.3,430.8 105.3,431.3 106.3,431.8 107.3,432.1 108.3,432.4 109.3,432.6 110.3,432.9 111.3,433.2 112.3,433.5 113.3,433.7 114.3,433.9 115.3,434.0 116.3,434.2 117.3,434.4 118.3,434.5 119.3,434.7 120.3,434.8 121.3,434.8 122.3,434.9 123.3,434.9 124.3,434.9 125.3,434.9 126.3,435.0 127.3,435.0 128.3,435.0 129.3,435.1 130.3,435.1 131.3,435.1 132.3,435.0 133.3,435.0 134.3,434.9 135.4,434.9 136.4,434.8 137.4,434.8 138.4,434.7 139.4,434.7 140.4,434.6 141.4,434.5 142.4,434.4 143.4,434.2 144.4,434.0 145.4,433.9 146.4,433.7 147.4,433.6 148.4,433.4 149.4,433.2 150.4,433.0 151.4,432.8 152.4,432.6 153.4,432.4 154.4,432.2 155.4,432.0 156.4,431.8 157.4,431.5 158.4,431.3 159.4,431.1 160.4,430.9 161.4,430.7 162.4,430.5 163.4,430.2 164.4,430.0 165.4,429.7 166.4,429.5 167.4,429.2 168.4,429.0 169.4,428.8 170.4,428.5 171.4,428.3 172.4,428.1 173.4,427.9 174.4,427.8 175.4,427.6 176.4,427.4 177.4,427.3 178.4,427.1 179.4,426.9 180.4,426.8 181.4,426.6 182.4,426.4 183.4,426.3 184.4,426.2 185.4,426.0 186.4,425.9 187.4,425.8 188.4,425.6 189.4,425.5 190.4,425.3 191.4,425.0 192.4,424.7 193.4,424.4 194.4,424.1 195.4,423.9 196.4,423.8 197.4,423.8 198.5,423.7 199.5,423.7 200.5,423.6 201.5,423.6 202.5,423.5 203.5,423.5 204.5,423.4 205.5,423.4 206.5,423.3 207.5,423.3 208.5,423.2 209.5,423.2 210.5,423.1 211.5,423.1 212.5,423.0 213.5,422.9 214.5,422.9 215.5,422.8 216.5,422.8 217.5,422.7 218.5,422.7 219.5,422.6 220.5,422.6 221.5,422.5 222.5,422.5 223.5,422.4 224.5,422.4 225.5,422.3 226.5,422.3 227.5,422.2 228.5,422.2 229.5,422.1 230.5,422.1 231.5,422.0 232.5,422.0 233.5,421.9 234.5,421.9 235.5,421.8 236.5,421.8 237.5,421.8 238.5,421.8 239.5,421.8 240.5,421.8 241.5,421.7 242.5,421.7 243.5,421.7 244.5,421.7 245.5,421.7 246.5,421.7 247.5,421.7 248.5,421.7 249.5,421.7 250.5,421.7 251.5,421.6 252.5,421.6 253.5,421.6 254.5,421.6 255.5,421.6 256.5,421.6 257.5,421.6 258.5,421.6 259.5,421.6 260.6,421.5 261.6,421.5 262.6,421.5 263.6,421.5 264.6,421.5 265.6,421.5 266.6,421.6 267.6,421.6 268.6,421.6 269.6,421.7 270.6,421.7 271.6,421.7 272.6,421.8 273.6,421.8 274.6,421.8 275.6,421.9 276.6,421.9 277.6,422.0 278.6,422.0 279.6,422.0 280.6,422.1 281.6,422.1 282.6,422.1 283.6,422.2 284.6,422.2 285.6,422.2 286.6,422.3 287.6,422.3 288.6,422.3 289.6,422.4 290.6,422.4 291.6,422.5 292.6,422.5 293.6,422.5 294.6,422.4 295.6,422.4 296.6,422.3 297.6,422.3 298.6,422.2 299.6,422.2 300.6,422.1 301.6,422.1 302.6,422.0 303.6,422.0 304.6,421.9 305.6,421.9 306.6,421.8 307.6,421.8 308.6,421.7 309.6,421.7 310.6,421.6 311.6,421.6 312.6,421.6 313.6,421.5 314.6,421.5 315.6,421.5 316.6,421.5 317.6,421.5 318.6,421.4 319.6,421.4 320.6,421.3 321.6,421.2 322.7,421.1 323.7,420.9 324.7,420.8 325.7,420.7 326.7,420.6 327.7,420.4 328.7,420.3 329.7,420.2 330.7,420.1 331.7,419.9 332.7,419.8 333.7,419.7 334.7,419.6 335.7,419.4 336.7,419.3 337.7,419.2 338.7,419.1 339.7,418.9 340.7,418.8 341.7,418.7 342.7,418.6 343.7,418.6 344.7,418.5 345.7,418.4 346.7,418.3 347.7,418.2 348.7,418.1 349.7,418.0 350.7,417.9 351.7,417.8 352.7,417.7 353.7,417.6" fill="none" stroke="#cfcfcf" stroke-width="0.6"/>
<polyline points="41.2,420.4 42.2,420.4 43.2,420.4 44.2,420.4 45.2,420.4 46.2,420.4 47.2,420.4 48.2,420.4 49.2,420.4 50.2,420.4 51.2,420.4 52.2,420.4 53.2,420.4 54.2,420.4 55.2,420.4 56.2,420.4 57.2,420.4 58.2,420.4 59.2,420.4 60.2,420.4 61.2,420.4 62.2,420.4 63.2,420.5 64.2,420.7 65.2,420.9 66.2,421.0 67.2,421.2 68.2,421.4 69.2,421.5 70.2,421.7 71.2,421.9 72.2,422.1 73.3,422.5 74.3,422.9 75.3,423.3 76.3,423.7 77.3,424.0 78.3,424.4 79.3,424.8 80.3,425.2 81.3,425.6 82.3,426.0 83.3,426.4 84.3,426.8 85.3,427.3 86.3,427.7 87.3,428.1 88.3,428.6 89.3,429.0 90.3,429.4 91.3,429.8 92.3,430.3 93.3,430.8 94.3,431.5 95.3,432.1 96.3,432.7 97.3,433.4 98.3,434.0 99.3,434.6 100.3,435.3 101.3,435.8 102.3,436.1 103.3,436.5 104.3,436.8 105.3,437.2 106.3,437.5 107.3,437.9 108.3,438.2 109.3,438.6 110.3,438.8 111.3,439.0 112.3,439.2 113.3,439.3 114.3,439.5 115.3,439.6 116.3,439.8 117.3,439.9 118.3,440.1 119.3,440.2 120.3,440.4 121.3,440.4 122.3,440.5 123.3,440.5 124.3,440.6 125.3,440.6 126.3,440.6 127.3,440.7 128.3,440.7 129.3,440.8 130.3,440.8 131.3,440.8 132.3,440.7 133.3,440.7 134.3,440.6 135.4,440.6 136.4,440.5 137.4,440.5 138.4,440.4 139.4,440.4 140.4,440.3 141.4,440.2 142.4,440.0 143.4,439.8 144.4,439.5 145.4,439.3 146.4,439.1 147.4,438.9 148.4,438.7 149.4,438.5 150.4,438.3 151.4,438.0 152.4,437.8 153.4,437.5 154.4,437.2 155.4,437.0 156.4,436.7 157.4,436.5 158.4,436.2 159.4,435.9 160.4,435.7 161.4,435.4 162.4,435.1 163.4,434.9 164.4,434.6 165.4,434.4 166.4,434.1 167.4,433.8 168.4,433.6 169.4,433.3 170.4,433.0 171.4,432.8 172.4,432.6 173.4,432.5 174.4,432.3 175.4,432.2 176.4,432.1 177.4,431.9 178.4,431.8 179.4,431.7 180.4,431.5 181.4,431.4 182.4,431.3 183.4,431.1 184.4,431.0 185.4,430.9 186.4,430.8 187.4,430.7 188.4,430.6 189.4,430.5 190.4,430.3 191.4,430.2 192.4,430.1 193.4,429.9 194.4,429.8 195.4,429.7 196.4,429.5 197.4,429.4 198.5,429.3 199.5,429.1 200.5,429.0 201.5,428.9 202.5,428.7 203.5,428.6 204.5,428.5 205.5,428.3 206.5,428.2 207.5,428.2 208.5,428.1 209.5,428.0 210.5,428.0 211.5,427.9 212.5,427.8 213.5,427.8 214.5,427.7 215.5,427.6 216.5,427.6 217.5,427.5 218.5,427.4 219.5,427.4 220.5,427.3 221.5,427.2 222.5,427.1 223.5,427.1 224.5,427.0 225.5,426.9 226.5,426.9 227.5,426.9 228.5,426.9 229.5,426.8 230.5,426.8 231.5,426.8 232.5,426.8 233.5,426.8 234.5,426.7 235.5,426.7 236.5,426.7 237.5,426.7 238.5,426.7 239.5,426.6 240.5,426.6 241.5,426.6 242.5,426.6 243.5,426.6 244.5,426.5 245.5,426.5 246.5,426.5 247.5,426.5 248.5,426.5 249.5,426.5 250.5,426.5 251.5,426.4 252.5,426.4 253.5,426.4 254.5,426.4 255.5,426.4 256.5,426.4 257.5,426.4 258.5,426.4 259.5,426.4 260.6,426.3 261.6,426.3 262.6,426.3 263.6,426.3 264.6,426.3 265.6,426.3 266.6,426.4 267.6,426.4 268.6,426.4 269.6,426.5 270.6,426.5 271.6,426.6 272.6,426.6 273.6,426.6 274.6,426.7 275.6,426.7 276.6,426.8 277.6,426.8 278.6,426.8 279.6,426.9 280.6,426.9 281.6,427.0 282.6,427.0 283.6,427.0 284.6,427.1 285.6,427.1 286.6,427.2 287.6,427.2 288.6,427.2 289.6,427.3 290.6,427.3 291.6,427.3 292.6,427.4 293.6,427.4 294.6,427.3 295.6,427.3 296.6,427.2 297.6,427.2 298.6,427.2 299.6,427.1 300.6,427.1 301.6,427.0 302.6,427.0 303.6,426.9 304.6,426.9 305.6,426.8 306.6,426.8 307.6,426.8 308.6,426.7 309.6,426.7 310.6,426.6 311.6,426.6 312.6,426.6 313.6,426.5 314.6,426.5 315.6,426.5 316.6,426.5 317.6,426.5 318.6,426.4 319.6,426.4 320.6,426.3 321.6,426.2 322.7,426.1 323.7,426.0 324.7,425.9 325.7,425.8 326.7,425.7 327.7,425.6 328.7,425.4 329.7,425.3 330.7,425.2 331.7,425.1 332.7,425.0 333.7,424.9 334.7,424.8 335.7,424.7 336.7,424.6 337.7,424.5 338.7,424.3 339.7,424.2 340.7,424.2 341.7,424.1 342.7,424.0 343.7,423.9 344.7,423.9 345.7,423.8 346.7,423.7 347.7,423.6 348.7,423.6 349.7,423.5 350.7,423.4 351.7,423.3 352.7,423.3 353.7,423.2" fill="none" stroke="#cfcfcf" stroke-width="0.6"/>
<rect x="41.2" y="409.3" width="16" height="5.5" fill="#d6d6d6"/>
<rect x="57.2" y="409.3" width="5.2" height="5.5" fill="#6fe4ee"/>
<rect x="350.4" y="387.8" width="3.3" height="29.8" fill="#2edbe6"/>
<rect x="350.4" y="423.2" width="3.3" height="16.5" fill="#2edbe6"/>
<polygon points="73.2,476.3 74.2,476.2 75.2,476.1 76.2,476.0 77.2,475.8 78.2,475.7 79.2,475.6 80.2,475.5 81.2,475.4 82.2,475.3 83.2,475.2 84.2,475.1 85.2,474.9 86.2,474.9 87.2,474.8 88.2,474.7 89.2,474.7 90.2,474.6 91.2,474.5 92.2,474.5 93.2,474.4 94.2,474.4 95.2,474.3 96.2,474.2 97.2,474.2 98.2,474.1 99.2,474.0 100.2,474.0 101.2,473.9 102.2,473.8 103.2,473.8 104.2,473.7 105.2,473.7 106.2,473.6 107.2,473.6 108.2,473.6 109.2,473.5 110.2,473.5 111.2,473.5 112.2,473.5 113.2,473.5 114.2,473.4 115.2,473.4 116.2,473.4 117.2,473.4 118.2,473.4 119.2,473.3 120.2,473.3 121.2,473.3 122.2,473.3 123.2,473.3 124.2,473.2 125.2,473.2 126.2,473.2 127.2,473.2 128.2,473.2 129.2,473.3 130.2,473.3 131.2,473.3 132.2,473.3 133.2,473.3 134.2,473.4 135.2,473.4 136.2,473.4 137.2,473.4 138.2,473.5 139.2,473.5 140.2,473.5 141.2,473.5 142.2,473.5 143.2,473.6 144.2,473.6 145.2,473.6 146.2,473.6 147.2,473.6 148.2,473.6 149.2,473.6 150.2,473.6 151.2,473.6 152.2,473.6 153.2,473.6 154.2,473.6 155.2,473.6 156.2,473.6 157.2,473.6 158.2,473.6 159.2,473.6 160.2,473.6 161.2,473.6 162.2,473.6 163.2,473.6 164.2,473.6 165.2,473.6 166.2,473.6 167.2,473.6 168.2,473.6 169.2,473.6 170.2,473.6 171.2,473.6 172.2,473.6 173.2,473.6 174.2,473.6 175.2,473.6 176.2,473.6 177.2,473.6 178.2,473.6 179.2,473.6 180.2,473.6 181.2,473.6 182.2,473.6 183.2,473.6 184.2,473.7 185.2,473.7 186.2,473.7 187.2,473.7 188.2,473.8 189.2,473.8 190.2,473.8 191.2,473.8 192.2,473.9 193.2,473.9 194.2,473.9 195.2,473.9 196.2,473.9 197.2,474.0 198.2,474.0 199.2,474.0 200.2,474.0 201.2,474.1 202.2,474.1 203.2,474.1 204.2,474.1 205.2,474.1 206.2,474.2 207.2,474.2 208.2,474.2 209.2,474.2 210.2,474.3 211.2,474.3 212.2,474.3 213.2,474.4 214.2,474.5 215.2,474.5 216.2,474.6 217.2,474.7 218.2,474.8 219.2,474.8 220.2,474.9 221.2,475.0 222.2,475.1 223.2,475.1 224.2,475.2 225.2,475.3 226.2,475.4 227.2,475.4 228.2,475.5 229.2,475.6 230.2,475.7 231.2,475.8 232.2,476.0 233.2,476.1 234.2,476.3 235.2,476.4 236.2,476.6 237.2,476.8 238.2,476.9 239.2,477.1 240.2,477.2 241.2,477.4 242.2,477.6 243.2,477.7 244.2,477.9 245.2,478.1 246.2,478.2 247.2,478.4 248.2,478.5 249.2,478.7 250.2,478.9 251.2,479.0 252.2,479.2 253.2,479.4 254.2,479.5 255.2,479.7 256.2,479.9 257.2,480.0 258.2,480.2 259.2,480.4 260.2,480.5 261.2,480.7 262.2,480.9 263.2,481.1 264.2,481.2 265.2,481.4 266.2,481.6 267.2,481.7 268.2,481.9 269.2,482.1 270.2,482.2 271.2,482.4 272.2,482.5 273.2,482.6 274.2,482.7 275.2,482.8 276.2,482.8 277.2,482.9 278.2,483.0 279.2,483.1 280.2,483.1 281.2,483.2 282.2,483.3 283.2,483.4 284.2,483.4 285.2,483.5 286.2,483.6 287.2,483.6 288.2,483.7 289.2,483.8 290.2,483.9 291.2,483.9 292.2,483.9 293.2,484.0 294.2,484.0 295.2,484.0 296.2,484.1 297.2,484.1 298.2,484.1 299.2,484.2 300.2,484.2 301.2,484.2 302.2,484.2 303.2,484.3 304.2,484.3 305.2,484.3 306.2,484.4 307.2,484.4 308.2,484.4 309.2,484.4 310.2,484.5 311.2,484.5 312.2,484.6 313.2,484.6 314.2,484.7 315.2,484.7 316.2,484.8 317.2,484.9 318.2,484.9 319.2,485.0 320.2,485.1 321.2,485.1 322.2,485.2 323.2,485.2 324.2,485.3 325.2,485.4 326.2,485.4 327.2,485.5 328.2,485.5 329.2,485.6 329.2,511.3 328.2,511.4 327.2,511.4 326.2,511.5 325.2,511.5 324.2,511.6 323.2,511.7 322.2,511.7 321.2,511.8 320.2,511.9 319.2,511.9 318.2,512.1 317.2,512.3 316.2,512.4 315.2,512.6 314.2,512.8 313.2,512.9 312.2,513.1 311.2,513.3 310.2,513.6 309.2,513.9 308.2,514.2 307.2,514.5 306.2,514.8 305.2,515.1 304.2,515.4 303.2,515.7 302.2,516.0 301.2,516.3 300.2,516.6 299.2,517.0 298.2,517.4 297.2,517.8 296.2,518.2 295.2,518.7 294.2,519.1 293.2,519.5 292.2,519.9 291.2,520.3 290.2,520.7 289.2,521.2 288.2,521.7 287.2,522.2 286.2,522.6 285.2,523.1 284.2,523.6 283.2,524.1 282.2,524.6 281.2,525.1 280.2,525.6 279.2,526.0 278.2,526.5 277.2,527.0 276.2,527.5 275.2,528.0 274.2,528.4 273.2,528.8 272.2,529.2 271.2,529.6 270.2,530.0 269.2,530.5 268.2,530.9 267.2,531.3 266.2,531.7 265.2,531.9 264.2,532.1 263.2,532.2 262.2,532.3 261.2,532.5 260.2,532.6 259.2,532.8 258.2,532.9 257.2,533.0 256.2,533.2 255.2,533.3 254.2,533.5 253.2,533.6 252.2,533.7 251.2,533.9 250.2,533.9 249.2,533.8 248.2,533.8 247.2,533.7 246.2,533.7 245.2,533.6 244.2,533.6 243.2,533.5 242.2,533.5 241.2,533.4 240.2,533.4 239.2,533.3 238.2,533.3 237.2,533.2 236.2,533.2 235.2,533.1 234.2,533.1 233.2,533.0 232.2,533.0 231.2,532.9 230.2,532.8 229.2,532.7 228.2,532.5 227.2,532.3 226.2,532.2 225.2,532.0 224.2,531.8 223.2,531.7 222.2,531.5 221.2,531.3 220.2,531.2 219.2,530.9 218.2,530.6 217.2,530.3 216.2,530.0 215.2,529.7 214.2,529.4 213.2,529.1 212.2,528.9 211.2,528.7 210.2,528.5 209.2,528.3 208.2,528.2 207.2,528.0 206.2,527.8 205.2,527.7 204.2,527.5 203.2,527.3 202.2,527.2 201.2,527.1 200.2,527.0 199.2,526.9 198.2,526.8 197.2,526.7 196.2,526.6 195.2,526.5 194.2,526.4 193.2,526.3 192.2,526.2 191.2,526.1 190.2,526.1 189.2,526.0 188.2,526.0 187.2,525.9 186.2,525.9 185.2,525.9 184.2,525.8 183.2,525.8 182.2,525.7 181.2,525.7 180.2,525.7 179.2,525.8 178.2,525.8 177.2,525.9 176.2,525.9 175.2,525.9 174.2,526.0 173.2,526.0 172.2,526.0 171.2,526.1 170.2,526.1 169.2,526.2 168.2,526.3 167.2,526.3 166.2,526.4 165.2,526.4 164.2,526.5 163.2,526.5 162.2,526.6 161.2,526.7 160.2,526.8 159.2,527.0 158.2,527.2 157.2,527.4 156.2,527.5 155.2,527.7 154.2,527.9 153.2,528.1 152.2,528.3 151.2,528.8 150.2,529.2 149.2,529.6 148.2,530.0 147.2,530.4 146.2,530.8 145.2,531.3 144.2,531.8 143.2,532.3 142.2,532.8 141.2,533.3 140.2,533.8 139.2,534.7 138.2,535.8 137.2,536.8 136.2,537.6 135.2,538.3 134.2,539.0 133.2,539.8 132.2,540.5 131.2,541.2 130.2,541.7 129.2,542.0 128.2,542.3 127.2,542.6 126.2,542.5 125.2,542.1 124.2,541.7 123.2,541.3 122.2,540.8 121.2,539.9 120.2,539.1 119.2,538.3 118.2,537.5 117.2,536.7 116.2,535.8 115.2,534.9 114.2,534.0 113.2,533.1 112.2,532.2 111.2,531.3 110.2,530.4 109.2,529.5 108.2,528.6 107.2,527.7 106.2,526.8 105.2,526.0 104.2,525.3 103.2,524.5 102.2,523.7 101.2,523.0 100.2,522.2 99.2,521.5 98.2,520.7 97.2,520.0 96.2,519.2 95.2,518.6 94.2,518.0 93.2,517.5 92.2,516.9 91.2,516.4 90.2,515.8 89.2,515.3 88.2,514.7 87.2,514.2 86.2,513.6 85.2,513.1 84.2,512.6 83.2,512.1 82.2,511.6 81.2,511.1 80.2,510.6 79.2,510.2 78.2,509.7 77.2,509.2 76.2,508.7 75.2,508.2 74.2,507.7 73.2,507.2" fill="#fbfbfb" stroke="#d9d9d9" stroke-width="0.6"/>
<path d="M76.0,476.0V508.6M78.8,475.7V510.0M81.6,475.4V511.3M84.4,475.0V512.7M87.2,474.8V514.2M90.0,474.6V515.7M92.8,474.4V517.3M95.6,474.3V518.8M98.4,474.1V520.9M101.2,473.9V523.0M104.0,473.7V525.1M106.8,473.6V527.3M108.2,473.6V528.6M109.7,473.5V530.0M111.1,473.5V531.3M112.6,473.5V532.6M114.0,473.4V533.9M115.5,473.4V535.2M116.9,473.4V536.5M118.4,473.4V537.6M119.8,473.3V538.8M121.3,473.3V540.0M122.8,473.3V541.2M124.2,473.2V541.7M125.7,473.2V542.3M127.1,473.2V542.6M128.6,473.2V542.2M130.0,473.3V541.7M131.4,473.3V541.0M132.9,473.3V540.0M134.3,473.4V538.9M135.8,473.4V537.9M137.2,473.4V536.7M138.7,473.5V535.2M140.1,473.5V533.8M141.6,473.5V533.1M143.0,473.6V532.4M144.5,473.6V531.6M145.9,473.6V530.9M147.4,473.6V530.3M148.8,473.6V529.7M150.3,473.6V529.1M151.7,473.6V528.5M153.2,473.6V528.1M154.6,473.6V527.8M156.1,473.6V527.6M157.5,473.6V527.3M159.0,473.6V527.0M160.4,473.6V526.7M161.9,473.6V526.6M163.3,473.6V526.5M164.8,473.6V526.5M166.2,473.6V526.4M167.7,473.6V526.3M169.1,473.6V526.2M170.6,473.6V526.1M172.0,473.6V526.1M173.5,473.6V526.0M174.9,473.6V525.9M176.4,473.6V525.9M177.8,473.6V525.8M179.3,473.6V525.8M180.7,473.6V525.7M182.2,473.6V525.7M183.6,473.7V525.8M185.1,473.7V525.9M186.5,473.7V525.9M188.0,473.8V526.0M189.4,473.8V526.0M190.9,473.8V526.1M192.3,473.9V526.2M193.8,473.9V526.3M195.2,473.9V526.5M196.7,474.0V526.6M198.1,474.0V526.8M199.6,474.0V526.9M201.0,474.1V527.0M202.5,474.1V527.2M203.9,474.1V527.5M205.4,474.2V527.7M206.8,474.2V527.9M208.3,474.2V528.2M209.7,474.2V528.4M211.2,474.3V528.7M212.6,474.3V529.0M214.1,474.5V529.4M215.5,474.6V529.8M217.0,474.7V530.2M218.4,474.8V530.7M219.9,474.9V531.1M221.3,475.0V531.4M222.8,475.1V531.6M224.2,475.2V531.9M225.7,475.3V532.1M227.1,475.4V532.3M228.6,475.5V532.6M230.0,475.7V532.8M231.5,475.8V532.9M232.9,476.1V533.0M234.4,476.3V533.1M235.8,476.5V533.2M237.3,476.8V533.2M238.7,477.0V533.3M240.2,477.2V533.4M241.6,477.5V533.4M243.1,477.7V533.5M244.5,477.9V533.6M246.0,478.2V533.7M247.4,478.4V533.7M248.9,478.6V533.8M250.3,478.9V533.9M251.8,479.1V533.8M253.2,479.4V533.6M254.7,479.6V533.4M256.1,479.9V533.2M257.6,480.1V533.0M259.0,480.4V532.8M260.5,480.6V532.6M261.9,480.8V532.4M263.4,481.1V532.2M264.8,481.3V532.0M266.3,481.6V531.7M267.7,481.8V531.1M269.2,482.1V530.5M270.6,482.3V529.9M272.1,482.5V529.2M273.5,482.6V528.6M275.0,482.7V528.0M276.4,482.9V527.4M277.9,483.0V526.7M279.3,483.1V526.0M280.8,483.2V525.3M282.2,483.3V524.6M283.7,483.4V523.9M286.6,483.6V522.4M289.5,483.8V521.0M292.4,484.0V519.8M295.3,484.0V518.6M298.2,484.1V517.4M301.1,484.2V516.3M304.0,484.3V515.4M306.9,484.4V514.6M309.8,484.5V513.7M312.7,484.6V513.0M315.6,484.8V512.5M318.5,484.9V512.1M321.4,485.1V511.8M324.3,485.3V511.6M327.2,485.5V511.4" stroke="#d9d9d9" stroke-width="0.55" fill="none"/>
<polygon points="212.5,474.5 213.5,474.6 214.5,474.7 215.5,474.8 216.5,474.8 217.5,474.9 218.6,475.0 219.6,475.1 220.6,475.1 221.6,475.2 222.6,475.3 223.6,475.4 224.6,475.4 225.6,475.5 226.6,475.6 227.6,475.7 228.7,475.8 229.7,475.8 230.7,475.9 231.7,476.1 232.7,476.2 233.7,476.4 234.7,476.6 235.7,476.7 236.7,476.9 237.7,477.0 238.7,477.2 239.8,477.4 240.8,477.5 241.8,477.7 242.8,477.9 243.8,478.0 244.8,478.2 245.8,478.3 246.8,478.5 247.8,478.7 248.8,478.8 249.8,479.0 250.9,479.2 251.9,479.3 252.9,479.5 253.9,479.7 254.9,479.8 255.9,480.0 256.9,480.2 257.9,480.4 258.9,480.5 259.9,480.7 261.0,480.9 262.0,481.0 263.0,481.2 264.0,481.4 265.0,481.6 266.0,481.7 266.0,511.3 265.0,511.4 264.0,511.5 263.0,511.6 262.0,511.7 261.0,511.8 259.9,511.9 258.9,512.0 257.9,512.1 256.9,512.2 255.9,512.2 254.9,512.3 253.9,512.4 252.9,512.5 251.9,512.6 250.9,512.7 249.8,512.6 248.8,512.5 247.8,512.5 246.8,512.4 245.8,512.3 244.8,512.3 243.8,512.2 242.8,512.1 241.8,512.1 240.8,512.0 239.8,511.9 238.7,511.9 237.7,511.8 236.7,511.7 235.7,511.6 234.7,511.6 233.7,511.5 232.7,511.4 231.7,511.4 230.7,511.3 229.7,511.1 228.7,510.9 227.6,510.8 226.6,510.6 225.6,510.4 224.6,510.2 223.6,510.0 222.6,509.8 221.6,509.7 220.6,509.5 219.6,509.3 218.6,509.1 217.5,508.9 216.5,508.7 215.5,508.6 214.5,508.4 213.5,508.2 212.5,508.0" fill="#f48a1c"/>
<path d="M213.9,474.8V508.1M215.4,475.0V508.3M216.8,475.1V508.6M218.3,475.2V508.9M219.7,475.3V509.1M221.2,475.4V509.4M222.6,475.5V509.7M224.1,475.6V509.9M225.5,475.7V510.2M227.0,475.8V510.4M228.4,475.9V510.7M229.9,476.0V511.0M231.3,476.2V511.2M232.8,476.5V511.3M234.2,476.7V511.3M235.7,476.9V511.4M237.1,477.2V511.5M238.6,477.4V511.6M240.0,477.6V511.7M241.5,477.9V511.8M242.9,478.1V511.9M244.4,478.3V512.0M245.8,478.6V512.1M247.3,478.8V512.2M248.7,479.0V512.3M250.2,479.3V512.4M251.6,479.5V512.4M253.1,479.7V512.3M254.5,480.0V512.2M256.0,480.2V512.0M257.4,480.5V511.9M258.9,480.7V511.8M260.3,481.0V511.6M261.8,481.2V511.5M263.2,481.5V511.4M264.7,481.7V511.2" stroke="#d9730a" stroke-opacity="0.35" stroke-width="0.4" fill="none"/>
<polygon points="273.3,482.8 274.3,482.9 275.3,483.0 276.3,483.0 277.4,483.1 278.4,483.2 279.4,483.3 280.4,483.3 281.4,483.4 281.4,503.0 280.4,503.5 279.4,504.0 278.4,504.6 277.4,505.1 276.3,505.6 275.3,506.2 274.3,506.7 273.3,507.3" fill="#f48a1c"/>
<path d="M274.8,483.1V506.3M276.2,483.2V505.5M277.6,483.3V504.7M279.1,483.4V504.0M280.5,483.6V503.2" stroke="#d9730a" stroke-opacity="0.35" stroke-width="0.4" fill="none"/>
<polyline points="73.2,485.2 74.2,485.7 75.2,486.2 76.2,486.8 77.2,487.3 78.2,487.8 79.2,488.3 80.2,488.9 81.2,489.4 82.2,489.9 83.2,490.4 84.2,491.0 85.2,491.5 86.2,492.1 87.2,492.7 88.2,493.3 89.2,493.9 90.2,494.5 91.2,495.1 92.2,495.7 93.2,496.3 94.2,496.9 95.2,497.5 96.2,498.2 97.2,499.0 98.2,499.8 99.2,500.6 100.2,501.4 101.2,502.2 102.2,503.0 103.2,503.8 104.2,504.6 105.2,505.4 106.2,506.2 107.2,507.1 108.2,508.0 109.2,508.9 110.2,509.8 111.2,510.7 112.2,511.6 113.2,512.5 114.2,513.4 115.2,514.3 116.2,515.2 117.2,515.9 118.2,516.6 119.2,517.3 120.2,517.9 121.2,518.6 122.2,519.2 123.2,519.7 124.2,520.0 125.2,520.4 126.2,520.7 127.2,520.7 128.2,520.4 129.2,520.1 130.2,519.8 131.2,519.4 132.2,519.1 133.2,518.7 134.2,518.1 135.2,517.5 136.2,516.9 137.2,516.3 138.2,515.7 139.2,515.1 140.2,514.5 141.2,513.8 142.2,513.2 143.2,512.6 144.2,512.0 145.2,511.3 146.2,510.7 147.2,510.3 148.2,509.9 149.2,509.5 150.2,509.1 151.2,508.7 152.2,508.2 153.2,508.0 154.2,507.9 155.2,507.7 156.2,507.5 157.2,507.3 158.2,507.1 159.2,507.0 160.2,506.8 161.2,506.7 162.2,506.6 163.2,506.6 164.2,506.5 165.2,506.5 166.2,506.4 167.2,506.4 168.2,506.3 169.2,506.3 170.2,506.2 171.2,506.2 172.2,506.1 173.2,506.1 174.2,506.0 175.2,506.0 176.2,505.9 177.2,505.9 178.2,505.8 179.2,505.8 180.2,505.7 181.2,505.7 182.2,505.7 183.2,505.7 184.2,505.8 185.2,505.8 186.2,505.8 187.2,505.8 188.2,505.8 189.2,505.9 190.2,505.9 191.2,505.9 192.2,505.9 193.2,505.9 194.2,506.0 195.2,506.0 196.2,506.0 197.2,506.0 198.2,506.0 199.2,506.1 200.2,506.1 201.2,506.1 202.2,506.2 203.2,506.4 204.2,506.5 205.2,506.7 206.2,506.9 207.2,507.1 208.2,507.2 209.2,507.4 210.2,507.6 211.2,507.8 212.2,507.9 213.2,508.1 214.2,508.3 215.2,508.5 216.2,508.7 217.2,508.9 218.2,509.0 219.2,509.2 220.2,509.4 221.2,509.6 222.2,509.8 223.2,510.0 224.2,510.1 225.2,510.3 226.2,510.5 227.2,510.7 228.2,510.9 229.2,511.0 230.2,511.2 231.2,511.3 232.2,511.4 233.2,511.5 234.2,511.5 235.2,511.6 236.2,511.7 237.2,511.8 238.2,511.8 239.2,511.9 240.2,512.0 241.2,512.0 242.2,512.1 243.2,512.2 244.2,512.2 245.2,512.3 246.2,512.4 247.2,512.4 248.2,512.5 249.2,512.6 250.2,512.6 251.2,512.7 252.2,512.6 253.2,512.5 254.2,512.4 255.2,512.3 256.2,512.2 257.2,512.1 258.2,512.0 259.2,511.9 260.2,511.8 261.2,511.8 262.2,511.7 263.2,511.6 264.2,511.5 265.2,511.4 266.2,511.2 267.2,510.6 268.2,510.1 269.2,509.5 270.2,509.0 271.2,508.4 272.2,507.9 273.2,507.3 274.2,506.8 275.2,506.2 276.2,505.7 277.2,505.2 278.2,504.6 279.2,504.1 280.2,503.6 281.2,503.1 282.2,502.7 283.2,502.3 284.2,501.9 285.2,501.5 286.2,501.2 287.2,500.8 288.2,500.4 289.2,500.0 290.2,499.7 291.2,499.3 292.2,498.9 293.2,498.6 294.2,498.2 295.2,497.8 296.2,497.5 297.2,497.1 298.2,496.7 299.2,496.4 300.2,496.0 301.2,495.7 302.2,495.5 303.2,495.3 304.2,495.1 305.2,494.9 306.2,494.8 307.2,494.6 308.2,494.4 309.2,494.2 310.2,494.0 311.2,493.8 312.2,493.5 313.2,493.3 314.2,493.0 315.2,492.8 316.2,492.5 317.2,492.3 318.2,492.0 319.2,491.8 320.2,491.7 321.2,491.7 322.2,491.7 323.2,491.7 324.2,491.7 325.2,491.7 326.2,491.7 327.2,491.7 328.2,491.7 329.2,491.7" fill="none" stroke="#cfcfcf" stroke-width="0.6"/>
<polyline points="73.2,490.1 74.2,490.6 75.2,491.1 76.2,491.6 77.2,492.1 78.2,492.6 79.2,493.1 80.2,493.6 81.2,494.1 82.2,494.6 83.2,495.1 84.2,495.6 85.2,496.1 86.2,496.7 87.2,497.3 88.2,497.9 89.2,498.5 90.2,499.1 91.2,499.6 92.2,500.2 93.2,500.8 94.2,501.4 95.2,502.0 96.2,502.7 97.2,503.5 98.2,504.3 99.2,505.1 100.2,505.9 101.2,506.8 102.2,507.6 103.2,508.4 104.2,509.2 105.2,510.0 106.2,510.8 107.2,511.6 108.2,512.5 109.2,513.3 110.2,514.2 111.2,515.1 112.2,515.9 113.2,516.8 114.2,517.6 115.2,518.5 116.2,519.3 117.2,520.1 118.2,520.9 119.2,521.6 120.2,522.4 121.2,523.1 122.2,523.9 123.2,524.4 124.2,524.8 125.2,525.2 126.2,525.5 127.2,525.5 128.2,525.2 129.2,524.9 130.2,524.5 131.2,524.2 132.2,523.8 133.2,523.4 134.2,522.8 135.2,522.3 136.2,521.7 137.2,521.1 138.2,520.5 139.2,520.0 140.2,519.4 141.2,518.8 142.2,518.3 143.2,517.7 144.2,517.1 145.2,516.6 146.2,516.0 147.2,515.6 148.2,515.1 149.2,514.7 150.2,514.2 151.2,513.8 152.2,513.3 153.2,513.1 154.2,513.0 155.2,512.8 156.2,512.6 157.2,512.5 158.2,512.3 159.2,512.1 160.2,512.0 161.2,511.9 162.2,511.8 163.2,511.7 164.2,511.7 165.2,511.6 166.2,511.6 167.2,511.5 168.2,511.5 169.2,511.4 170.2,511.3 171.2,511.3 172.2,511.2 173.2,511.2 174.2,511.1 175.2,511.0 176.2,511.0 177.2,510.9 178.2,510.9 179.2,510.8 180.2,510.8 181.2,510.7 182.2,510.7 183.2,510.8 184.2,510.8 185.2,510.8 186.2,510.8 187.2,510.9 188.2,510.9 189.2,510.9 190.2,511.0 191.2,511.0 192.2,511.0 193.2,511.1 194.2,511.1 195.2,511.1 196.2,511.1 197.2,511.2 198.2,511.2 199.2,511.2 200.2,511.3 201.2,511.3 202.2,511.4 203.2,511.5 204.2,511.7 205.2,511.8 206.2,512.0 207.2,512.2 208.2,512.3 209.2,512.5 210.2,512.6 211.2,512.8 212.2,512.9 213.2,513.1 214.2,513.3 215.2,513.4 216.2,513.6 217.2,513.8 218.2,513.9 219.2,514.1 220.2,514.3 221.2,514.4 222.2,514.6 223.2,514.8 224.2,514.9 225.2,515.1 226.2,515.3 227.2,515.4 228.2,515.6 229.2,515.8 230.2,515.9 231.2,516.0 232.2,516.1 233.2,516.2 234.2,516.2 235.2,516.3 236.2,516.4 237.2,516.5 238.2,516.5 239.2,516.6 240.2,516.7 241.2,516.7 242.2,516.8 243.2,516.9 244.2,516.9 245.2,517.0 246.2,517.1 247.2,517.1 248.2,517.2 249.2,517.3 250.2,517.3 251.2,517.4 252.2,517.3 253.2,517.1 254.2,517.0 255.2,516.8 256.2,516.7 257.2,516.6 258.2,516.4 259.2,516.3 260.2,516.2 261.2,516.0 262.2,515.9 263.2,515.8 264.2,515.6 265.2,515.5 266.2,515.3 267.2,514.9 268.2,514.5 269.2,514.1 270.2,513.6 271.2,513.2 272.2,512.8 273.2,512.4 274.2,512.0 275.2,511.6 276.2,511.0 277.2,510.3 278.2,509.5 279.2,508.8 280.2,508.0 281.2,507.3 282.2,506.9 283.2,506.5 284.2,506.1 285.2,505.7 286.2,505.4 287.2,505.0 288.2,504.6 289.2,504.2 290.2,503.9 291.2,503.5 292.2,503.1 293.2,502.8 294.2,502.4 295.2,502.0 296.2,501.7 297.2,501.3 298.2,500.9 299.2,500.6 300.2,500.2 301.2,499.9 302.2,499.7 303.2,499.5 304.2,499.3 305.2,499.1 306.2,498.9 307.2,498.7 308.2,498.5 309.2,498.3 310.2,498.1 311.2,497.9 312.2,497.5 313.2,497.1 314.2,496.7 315.2,496.4 316.2,496.0 317.2,495.6 318.2,495.2 319.2,494.9 320.2,494.8 321.2,494.7 322.2,494.7 323.2,494.6 324.2,494.6 325.2,494.6 326.2,494.5 327.2,494.5 328.2,494.4 329.2,494.4" fill="none" stroke="#cfcfcf" stroke-width="0.6"/>
<rect x="326.1" y="486.2" width="3.1" height="5.5" fill="#ee82ee"/>
<text x="16.9" y="404.7" font-size="9.8" class="s" textLength="34.8" lengthAdjust="spacingAndGlyphs">40 m asl</text>
<text x="10.8" y="448.6" font-size="9.8" class="s" textLength="40.9" lengthAdjust="spacingAndGlyphs">−11 m asl</text>
<text x="30.8" y="425.6" font-size="8" class="b s">S</text>
<text x="62.8" y="424.1" font-size="9.8" class="s" textLength="28.8" lengthAdjust="spacingAndGlyphs">Layer 2</text>
<text x="305.7" y="409.6" font-size="9.8" class="s" textLength="28.3" lengthAdjust="spacingAndGlyphs">Layer 1</text>
<text x="267.8" y="437.7" font-size="9.8" class="s" textLength="28.8" lengthAdjust="spacingAndGlyphs">Layer 3</text>
<text x="343.1" y="384.2" font-size="9.8" class="s" textLength="34.5" lengthAdjust="spacingAndGlyphs">79 m asl</text>
<text x="361.1" y="414.9" font-size="8" class="b s">N</text>
<text x="338.3" y="449.5" font-size="9.8" class="s" textLength="39.3" lengthAdjust="spacingAndGlyphs">−15 m asl</text>
<text x="50" y="470.2" font-size="9.8" class="s" textLength="34" lengthAdjust="spacingAndGlyphs">66 m asl</text>
<text x="62.4" y="492.8" font-size="8" class="b s">O</text>
<text x="47.4" y="519.5" font-size="9.8" class="s" textLength="34.8" lengthAdjust="spacingAndGlyphs">−5 m asl</text>
<text x="112.7" y="491.7" font-size="9.8" class="s" textLength="29.4" lengthAdjust="spacingAndGlyphs">Layer 1</text>
<text x="161.6" y="511.9" font-size="9.8" class="s" textLength="28.8" lengthAdjust="spacingAndGlyphs">Layer 2</text>
<text x="237.8" y="528.3" font-size="9.8" class="s" textLength="28.8" lengthAdjust="spacingAndGlyphs">Layer 3</text>
<text x="307" y="479.8" font-size="9.8" class="s" textLength="35" lengthAdjust="spacingAndGlyphs">44 m asl</text>
<text x="336.8" y="500.4" font-size="8" class="b s">E</text>
<text x="307" y="523.7" font-size="9.8" class="s" textLength="35" lengthAdjust="spacingAndGlyphs">−6 m asl</text>
</svg></body></html>
